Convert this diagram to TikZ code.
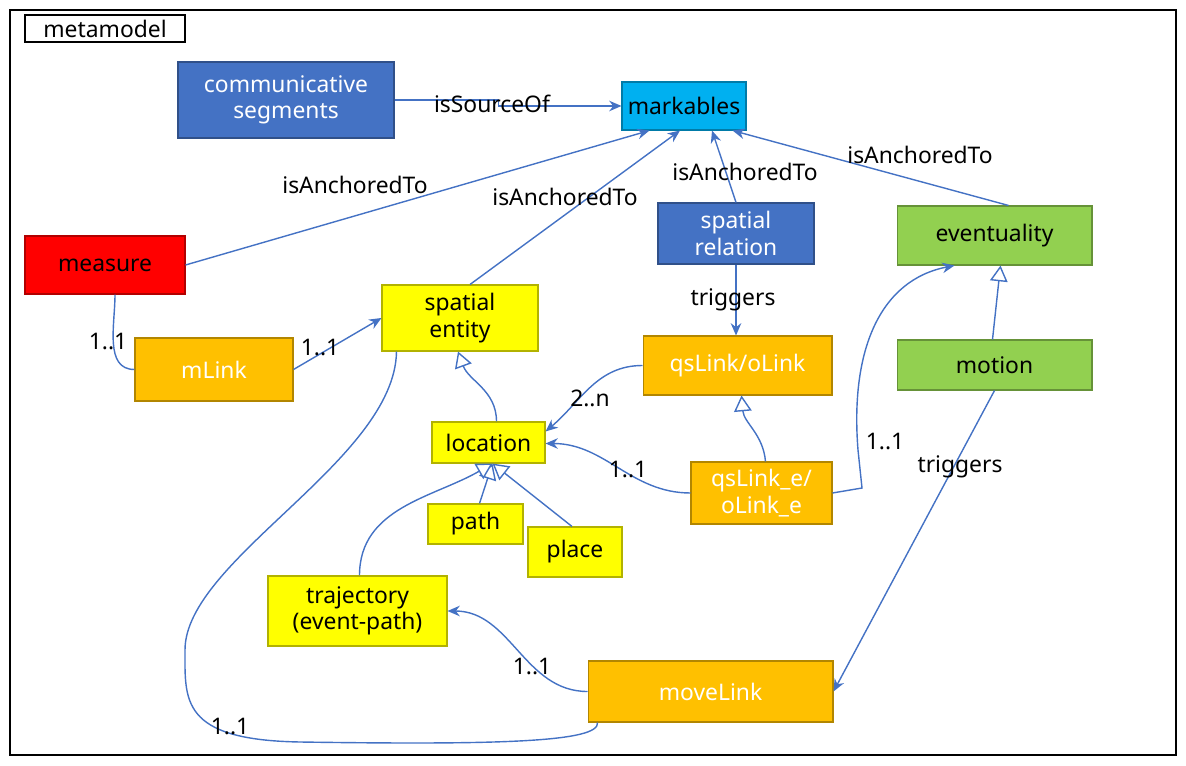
\documentclass[tikz,border=0pt]{standalone}
\usepackage{fontspec}
\setmainfont{Noto Sans}
\usetikzlibrary{arrows.meta,calc}
\definecolor{cblue}{HTML}{4472C4}
\definecolor{cbluedk}{HTML}{2F528F}
\definecolor{ccyan}{HTML}{00B0F0}
\definecolor{cred}{HTML}{FF0000}
\definecolor{cyel}{HTML}{FFFF00}
\definecolor{cgreen}{HTML}{92D050}
\definecolor{corange}{HTML}{FFC000}
\definecolor{cline}{HTML}{4472C4}
\begin{document}
\begin{tikzpicture}[x=0.02cm,y=-0.02cm,
    box/.style={draw=#1!70!black,fill=#1,font=\fontsize{13}{15}\selectfont\bfseries,
      align=center,inner sep=1pt,line width=0.6pt},
    lab/.style={font=\fontsize{13}{15}\selectfont,inner sep=1pt},
    con/.style={draw=cline,line width=0.8pt},
    arr/.style={con,-{Stealth[length=7pt,width=6pt]}},
    gen/.style={con,-{Triangle[open,length=9pt,width=10pt,fill=white]}}]
  \useasboundingbox (0,0) rectangle (1186,766);
  \draw[line width=1.3pt] (10,10) rectangle (1176,755);
  \node[draw,line width=0.6pt,minimum width=3.2cm,minimum height=0.54cm,
    font=\fontsize{13}{15}\selectfont\bfseries,inner sep=1pt] (title) at (105,28.5) {metamodel};

  % boxes
  \node[box=cblue,text=white,minimum width=4.32cm,minimum height=1.52cm] (comm) at (286,100) {communicative\\segments};
  \node[box=ccyan,minimum width=2.48cm,minimum height=0.96cm] (mark) at (684,106) {markables};
  \node[box=cred,minimum width=3.2cm,minimum height=1.16cm] (meas) at (105,265) {measure};
  \node[box=cyel,minimum width=3.12cm,minimum height=1.32cm] (se) at (460,318) {spatial\\entity};
  \node[box=cblue,text=white,minimum width=3.12cm,minimum height=1.22cm] (sr) at (736,233.5) {spatial\\relation};
  \node[box=cgreen,minimum width=3.9cm,minimum height=1.18cm] (ev) at (994.5,235.5) {eventuality};
  \node[box=cgreen,minimum width=3.9cm,minimum height=1.0cm] (mo) at (994.5,365) {motion};
  \node[box=corange,text=white,minimum width=3.16cm,minimum height=1.26cm] (ml) at (214,369.5) {mLink};
  \node[box=corange,text=white,minimum width=3.78cm,minimum height=1.18cm] (qs) at (737.5,365.5) {qsLink/oLink};
  \node[box=cyel,minimum width=2.26cm,minimum height=0.82cm] (loc) at (488.5,442.5) {location};
  \node[box=corange,text=white,minimum width=2.82cm,minimum height=1.24cm] (qse) at (761.5,493) {qsLink\_e/\\oLink\_e};
  \node[box=cyel,minimum width=1.9cm,minimum height=0.8cm] (path) at (475.5,524) {path};
  \node[box=cyel,minimum width=1.88cm,minimum height=1.0cm] (place) at (575,552) {place};
  \node[box=cyel,minimum width=3.58cm,minimum height=1.4cm] (traj) at (357.5,611) {trajectory\\(event-path)};
  \node[box=corange,text=white,minimum width=4.9cm,minimum height=1.22cm] (mv) at (710.5,691.5) {moveLink};

  % connectors
  \draw[arr] (comm.east) -- +(104,0) |- (mark.west);
  \node[lab] (l1) at (492,104) {isSourceOf};
  \draw[arr] (meas.east) -- ($(mark.south west)+(28,0)$);
  \node[lab] (l2) at (355,185) {isAnchoredTo};
  \draw[arr] ($(se.north)+(10,0)$) -- ($(mark.south)+(-4,0)$);
  \node[lab] (l3) at (565,197) {isAnchoredTo};
  \draw[arr] ($(sr.north)+(0,0)$) -- ($(mark.south)+(28,0)$);
  \node[lab] (l4) at (745,172) {isAnchoredTo};
  \draw[arr] ($(ev.north)+(14,0)$) -- ($(mark.south east)+(-14,0)$);
  \node[lab] (l5) at (920,155) {isAnchoredTo};
  \draw[arr] (sr.south) -- ($(qs.north)+(-1.5,0)$);
  \node[lab] (l6) at (733,300) {triggers};
  \draw[con] ($(meas.south)+(10,0)$) to[out=-90,in=180] (ml.west);
  \node[lab] (l7) at (108,342) {1..1};
  \draw[arr] (ml.east) -- (se.west);
  \node[lab] (l8) at (320,348) {1..1};
  \draw[gen] ($(loc.north)+(8,0)$) to[out=90,in=-70] ($(se.south)+(-2,0)$);
  \draw[arr] (qs.west) to[out=180,in=40] ($(loc.north east)+(0,10)$);
  \node[lab] (l9) at (590,398) {2..n};
  \draw[gen] ($(qse.north)+(4,0)$) to[out=95,in=-85] ($(qs.south)+(4,0)$);
  \draw[arr] (qse.west) to[out=180,in=0] ($(loc.east)+(0,1)$);
  \node[lab] (l10) at (628,470) {1..1};
  \draw[arr] (qse.east) -- (862,488) -- (858,450)
    .. controls (850,350) and (880,280) .. ($(ev.south)+(-40,0)$);
  \node[lab] (l11) at (885,442) {1..1};
  \draw[gen] ($(mo.north)+(-2,0)$) -- ($(ev.south)+(6,0)$);
  \draw[gen] ($(path.north)+(4,0)$) -- ($(loc.south)+(4,0)$);
  \draw[gen] ($(place.north)+(-3,0)$) -- ($(loc.south)+(4,0)$);
  \draw[gen] ($(traj.north)+(2,0)$) to[out=90,in=-150] ($(loc.south)+(4,0)$);
  \draw[arr] (mv.west) to[out=180,in=0] (traj.east);
  \node[lab] (l12) at (532,667) {1..1};
  \draw[arr] (mo.south) -- (mv.east);
  \node[lab] (l13) at (960,467) {triggers};
  \draw[con] ($(mv.south west)+(10,0)$) .. controls (600,742) and (500,745) .. (300,742)
    .. controls (180,740) and (185,700) .. (185,650)
    .. controls (185,560) and (395,460) .. ($(se.south west)+(15,0)$);
  \node[lab] (l14) at (230,727) {1..1};
\end{tikzpicture}
\end{document}
